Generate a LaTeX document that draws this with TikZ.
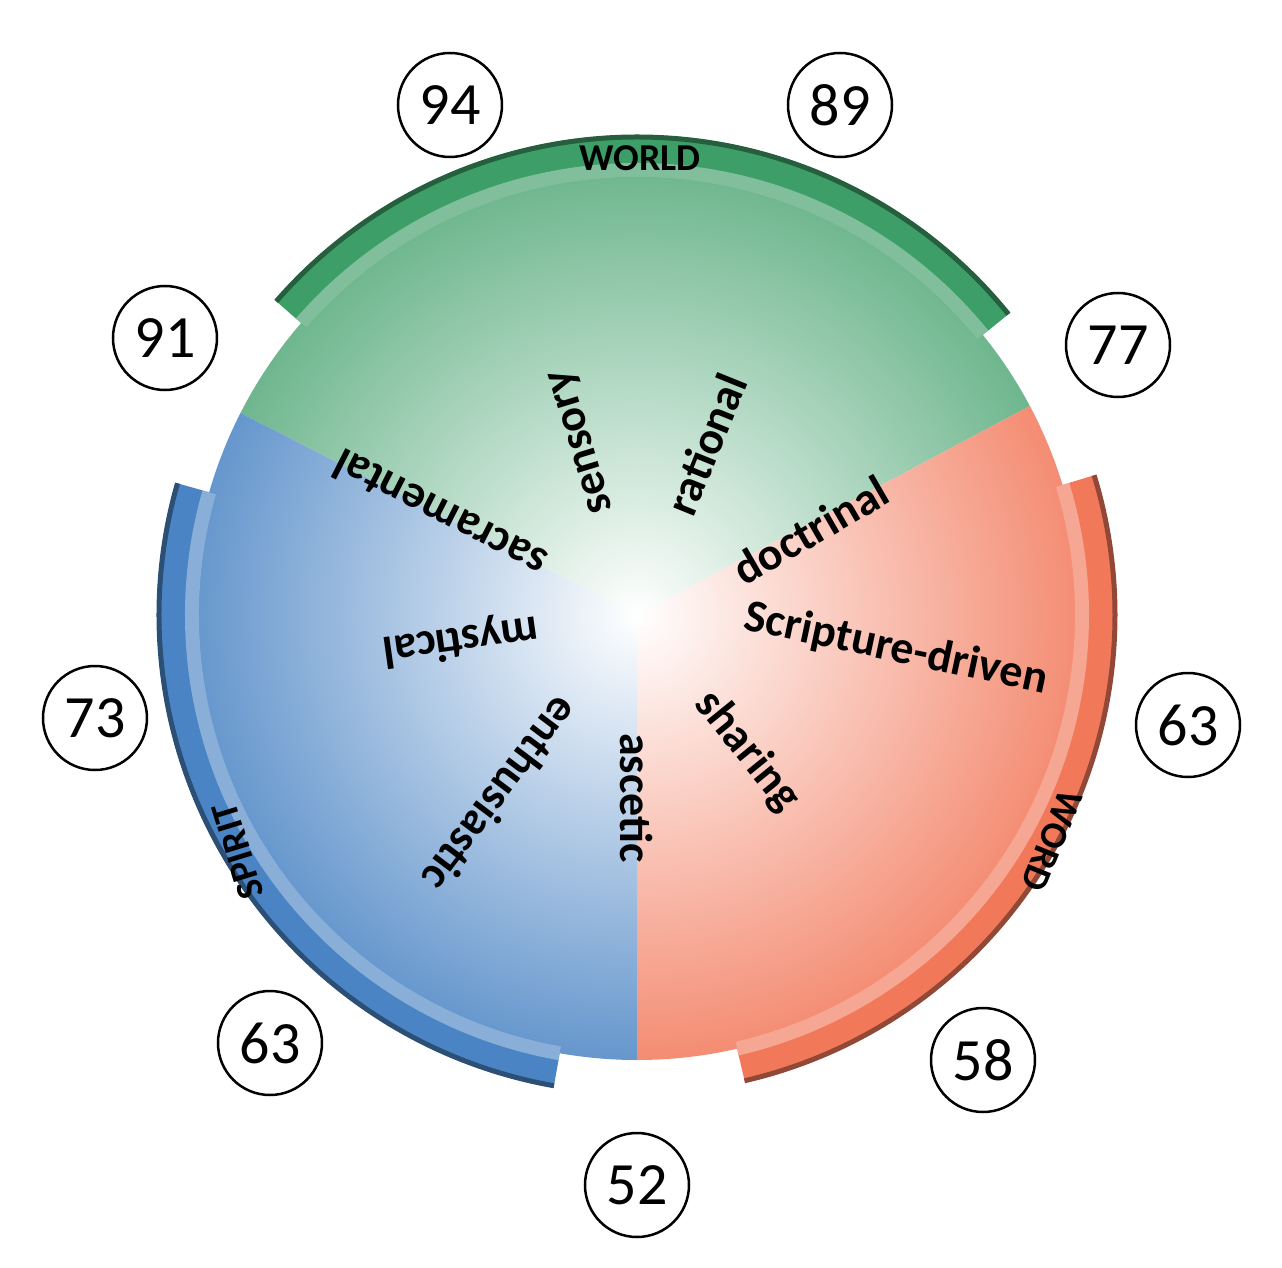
\documentclass[tikz,border=0pt]{standalone}
\usepackage{fontspec}
\setmainfont{Carlito}
\begin{document}
\begin{tikzpicture}[x=1pt,y=1pt,
  num/.style={circle,draw=black,line width=2.5pt,minimum size=104pt,inner sep=0pt,font=\fontsize{60}{60}\selectfont},
  word/.style={anchor=west,inner sep=0pt,font=\bfseries\fontsize{46}{46}\selectfont},
  ringlab/.style={inner sep=0pt,font=\bfseries\fontsize{38}{38}\selectfont},
  ring/.style={line width=42pt,line cap=butt},
  ringin/.style={line width=14pt,line cap=butt,opacity=0.35}]
\useasboundingbox (-637,-652) rectangle (645,615);
\definecolor{gr}{HTML}{3E9E68}
\definecolor{rd}{HTML}{F2785A}
\definecolor{bl}{HTML}{4A84C4}
% sectors
\begin{scope}
\clip (0,0) -- (28:445) arc (28:153:445) -- cycle;
\shade[inner color=white,outer color=gr!75] (0,0) circle (445);
\end{scope}
\begin{scope}
\clip (0,0) -- (153:445) arc (153:270:445) -- cycle;
\shade[inner color=white,outer color=bl!85] (0,0) circle (445);
\end{scope}
\begin{scope}
\clip (0,0) -- (-90:445) arc (-90:28:445) -- cycle;
\shade[inner color=white,outer color=rd!85] (0,0) circle (445);
\end{scope}
% rings
\draw[ring,gr] (39:459) arc (39:139:459);
\draw[ring,rd] (17:459) arc (17:-77:459);
\draw[ring,bl] (164:459) arc (164:260:459);
\draw[ringin,white] (39:445) arc (39:139:445);
\draw[ringin,white] (17:445) arc (17:-77:445);
\draw[ringin,white] (164:445) arc (164:260:445);
\draw[line width=5pt,gr!60!black] (39:478) arc (39:139:478);
\draw[line width=5pt,rd!60!black] (17:478) arc (17:-77:478);
\draw[line width=5pt,bl!60!black] (164:478) arc (164:260:478);
\node[ringlab,rotate=0] (world) at (3,457) {WORLD};
\node[ringlab,rotate=248] (wordl) at (415,-226) {WORD};
\node[ringlab,rotate=107] (spirit) at (-399,-236) {SPIRIT};
% words
\node[word,rotate=68] (rational) at (68:110) {rational};
\node[word,rotate=107] (sensory) at (107:108) {sensory};
\node[word,rotate=153] (sacramental) at (153:105) {sacramental};
\node[word,rotate=188] (mystical) at (188:100) {mystical};
\node[word,rotate=233] (enthusiastic) at (233:110) {enthusiastic};
\node[word,rotate=270] (ascetic) at (270:118) {ascetic};
\node[word,rotate=-51] (sharing) at (-51:105) {sharing};
\node[word,rotate=-12] (scripture) at (-1:108) {Scripture-driven};
\node[word,rotate=30] (doctrinal) at (23:108) {doctrinal};
% numbers
\node[num] (n94) at (-187,510) {94};
\node[num] (n89) at (203,510) {89};
\node[num] (n91) at (-472,277) {91};
\node[num] (n77) at (481,270) {77};
\node[num] (n73) at (-542,-103) {73};
\node[num] (n63a) at (551,-110) {63};
\node[num] (n63b) at (-367,-428) {63};
\node[num] (n58) at (346,-445) {58};
\node[num] (n52) at (0,-570) {52};
\end{tikzpicture}
\end{document}
